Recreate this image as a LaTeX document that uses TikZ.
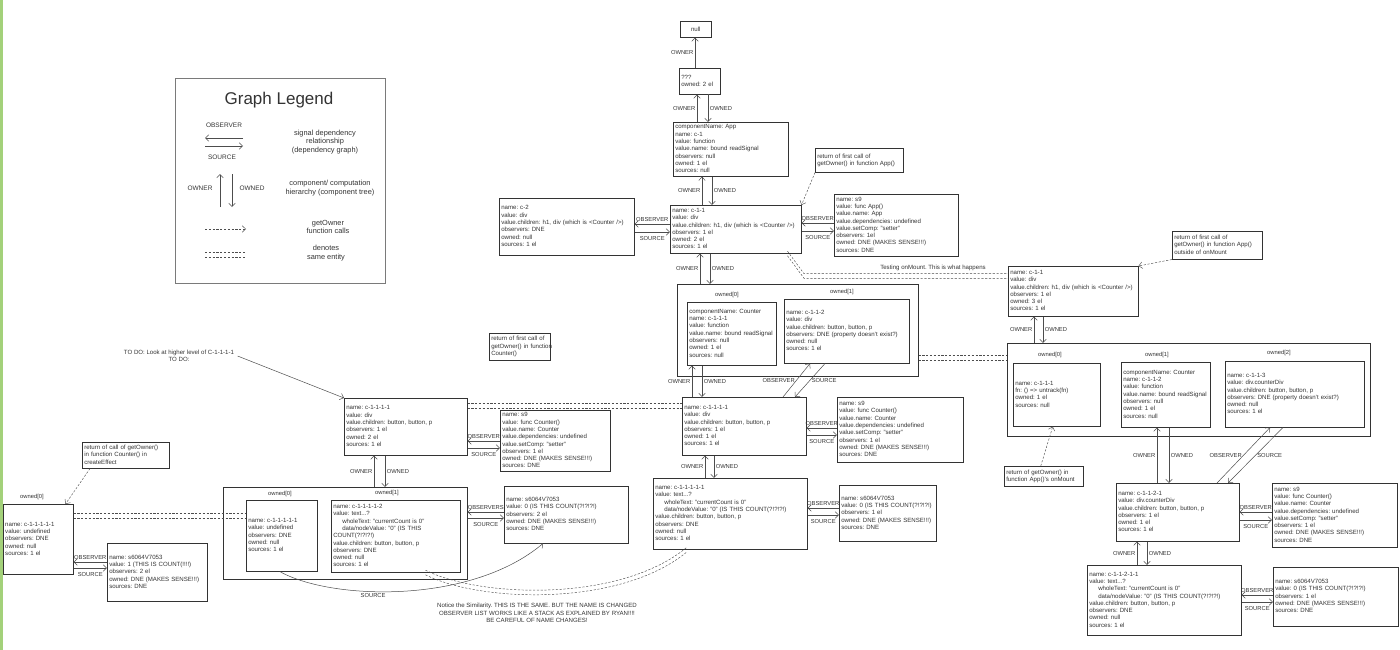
\documentclass[tikz,border=0pt]{standalone}
\usepackage{fontspec}
\setmainfont{Liberation Sans}
\usetikzlibrary{arrows.meta,calc}
\definecolor{Ink}{HTML}{333333}
\definecolor{Wire}{HTML}{4D4D4D}
\definecolor{Frame}{HTML}{7A7A7A}
\definecolor{Edge}{HTML}{A3D17A}
\newcommand{\rows}[1]{\begin{tabular}{@{}l@{}}#1\end{tabular}}
\newcommand{\ind}{\hspace*{9pt}}
\frenchspacing

\begin{document}
\begin{tikzpicture}[x=1pt,y=-1pt,
  box/.style={draw=Ink,line width=0.5pt,fill=white,anchor=north west,align=left,inner xsep=2pt,inner ysep=1.5pt,text=Ink,font=\fontsize{6.1}{7.3}\selectfont},
  grp/.style={draw=Ink,line width=0.5pt,anchor=north west,inner sep=0pt},
  lab/.style={text=Ink,inner sep=1.5pt,font=\fontsize{5.8}{7}\selectfont},
  note/.style={text=Ink,align=center,font=\fontsize{6.1}{7.3}\selectfont},
  lgl/.style={text=Ink,font=\fontsize{6.5}{8}\selectfont},
  lgt/.style={text=Ink,align=center,font=\fontsize{7.4}{8.7}\selectfont},
  arr/.style={draw=Wire,line width=0.5pt,-{Straight Barb[length=3.5pt,width=6.5pt]}},
  call/.style={draw=Wire,line width=0.45pt,dash pattern=on 2.2pt off 1.6pt,-{Straight Barb[length=3.5pt,width=6.5pt]}},
  dashline/.style={draw=Wire,line width=0.45pt,dash pattern=on 2.2pt off 1.6pt},
  same/.style={draw=none,preaction={dashline,transform canvas={yshift=2.3pt}},postaction={dashline,transform canvas={yshift=-2.3pt}}}
]
\useasboundingbox (0,0) rectangle (1400,650);
\fill[Edge] (0,0) rectangle (2.5,650);

% legend
\node[draw=Frame,line width=0.7pt,anchor=north west,minimum width=210pt,minimum height=205pt,inner sep=0pt] (legend) at (175,78) {};
\node[text=Ink,font=\fontsize{17}{20}\selectfont] (lgtitle) at (279,100) {Graph Legend};
\node[lgl] (lgobs) at (224,125) {OBSERVER};
\coordinate (lgl1) at (205,138); \coordinate (lgr1) at (243,138);
\coordinate (lgl2) at (205,146); \coordinate (lgr2) at (243,146);
\draw[arr] (lgr1) -- (lgl1);
\draw[arr] (lgl2) -- (lgr2);
\node[lgl] (lgsrc) at (222,157) {SOURCE};
\node[lgt] (lgsig) at (325,142) {signal dependency\\relationship\\(dependency graph)};
\node[lgl] (lgowner) at (200,188) {OWNER};
\coordinate (lgu1) at (220,207); \coordinate (lgu2) at (220,174);
\coordinate (lgd1) at (232,174); \coordinate (lgd2) at (232,207);
\draw[arr] (lgu1) -- (lgu2);
\draw[arr] (lgd1) -- (lgd2);
\node[lgl] (lgowned) at (252,188) {OWNED};
\node[lgt] (lghier) at (330,188) {component/ computation\\hierarchy (component tree)};
\coordinate (lgc1) at (205,229); \coordinate (lgc2) at (246,229);
\draw[call] (lgc1) -- (lgc2);
\node[lgt] (lgcall) at (328,227) {getOwner\\function calls};
\coordinate (lgs1) at (205,255); \coordinate (lgs2) at (245,255);
\draw[same] (lgs1) -- (lgs2);
\node[lgt] (lgsame) at (326,253) {denotes\\same entity};

% top chain
\node[box,text width=27pt,minimum height=16pt,align=center] (nullb) at (680,21) {null};
\node[box,text width=37pt,minimum height=26pt] (qbox) at (679,68) {\rows{???\\owned: 2 el}};
\node[box,text width=111pt,minimum height=54pt] (app) at (673,122) {\rows{componentName: App\\name: c-1\\value: function\\value.name: bound readSignal\\observers: null\\owned: 1 el\\sources: null}};
\node[box,text width=131pt,minimum height=57pt] (c2) at (499,198) {\rows{name: c-2\\value: div\\value.children: h1, div (which is <Counter />)\\observers: DNE\\owned: null\\sources: 1 el}};
\node[box,text width=127pt,minimum height=48pt] (c11) at (670,205) {\rows{name: c-1-1\\value: div\\value.children: h1, div (which is <Counter />)\\observers: 1 el\\owned: 2 el\\sources: 1 el}};
\node[box,text width=120pt,minimum height=62pt] (s9app) at (834,194) {\rows{name: s9\\value: func App()\\value.name: App\\value.dependencies: undefined\\value.setComp: "setter"\\observers: 1el\\owned: DNE (MAKES SENSE!!!)\\sources: DNE}};
\node[box,text width=84pt,minimum height=24pt] (cmtapp) at (815,148) {\rows{return of first call of\\getOwner() in function App()}};
\node[box,text width=86pt,minimum height=28pt] (cmtout) at (1172,231) {\rows{return of first call of\\getOwner() in function App()\\outside of onMount}};
\node[box,text width=126pt,minimum height=50pt] (c11r) at (1008,266) {\rows{name: c-1-1\\value: div\\value.children: h1, div (which is <Counter />)\\observers: 1 el\\owned: 3 el\\sources: 1 el}};

% owned of c-1-1 (middle)
\node[grp,minimum width=241pt,minimum height=92pt] (grpmid) at (677,284) {};
\node[lab] (lm0) at (727,295) {owned[0]};
\node[lab] (lm1) at (842,292) {owned[1]};
\node[box,text width=85pt,minimum height=63pt] (om0) at (687,302) {\rows{componentName: Counter\\name: c-1-1-1\\value: function\\value.name: bound readSignal\\observers: null\\owned: 1 el\\sources: null}};
\node[box,text width=121pt,minimum height=64pt] (om1) at (784,299) {\rows{name: c-1-1-2\\value: div\\value.children: button, button, p\\observers: DNE (property doesn't exist?)\\owned: null\\sources: 1 el}};

% owned of c-1-1 (right)
\node[grp,minimum width=363pt,minimum height=93pt] (grpright) at (1007,343) {};
\node[lab] (lr0) at (1050,355) {owned[0]};
\node[lab] (lr1) at (1157,355) {owned[1]};
\node[lab] (lr2) at (1279,353) {owned[2]};
\node[box,text width=83pt,minimum height=63pt] (or0) at (1013,363) {\rows{name: c-1-1-1\\fn: () => untrack(fn)\\owned: 1 el\\sources: null}};
\node[box,text width=85pt,minimum height=65pt] (or1) at (1121,362) {\rows{componentName: Counter\\name: c-1-1-2\\value: function\\value.name: bound readSignal\\observers: null\\owned: 1 el\\sources: null}};
\node[box,text width=135pt,minimum height=66pt] (or2) at (1225,361) {\rows{name: c-1-1-3\\value: div.counterDiv\\value.children: button, button, p\\observers: DNE (property doesn't exist?)\\owned: null\\sources: 1 el}};
\node[box,text width=75pt,minimum height=20pt] (cmtmount) at (1004,466) {\rows{return of getOwner() in\\function App()'s onMount}};
\node[box,text width=119pt,minimum height=58pt] (c1121) at (1116,483) {\rows{name: c-1-1-2-1\\value: div.counterDiv\\value.children: button, button, p\\observers: 1 el\\owned: 1 el\\sources: 1 el}};
\node[box,text width=121pt,minimum height=64pt] (s9r) at (1272,483) {\rows{name: s9\\value: func Counter()\\value.name: Counter\\value.dependencies: undefined\\value.setComp: "setter"\\observers: 1 el\\owned: DNE (MAKES SENSE!!!)\\sources: DNE}};
\node[box,text width=150pt,minimum height=70pt] (c11211) at (1087,565) {\rows{name: c-1-1-2-1-1\\value: text...?\\\ind wholeText: "currentCount is 0"\\\ind data/nodeValue: "0" (IS THIS COUNT(?!?!?!)\\value.children: button, button, p\\observers: DNE\\owned: null\\sources: 1 el}};
\node[box,text width=121pt,minimum height=59pt] (s6064r) at (1273,567) {\rows{name: s6064V7053\\value: 0 (IS THIS COUNT(?!?!?!)\\observers: 1 el\\owned: DNE (MAKES SENSE!!!)\\sources: DNE}};

% middle column
\node[box,text width=120pt,minimum height=58pt] (c1111m) at (682,397) {\rows{name: c-1-1-1-1\\value: div\\value.children: button, button, p\\observers: 1 el\\owned: 1 el\\sources: 1 el}};
\node[box,text width=122pt,minimum height=65pt] (s9m) at (837,397) {\rows{name: s9\\value: func Counter()\\value.name: Counter\\value.dependencies: undefined\\value.setComp: "setter"\\observers: 1 el\\owned: DNE (MAKES SENSE!!!)\\sources: DNE}};
\node[box,text width=150pt,minimum height=71pt] (c11111m) at (653,478) {\rows{name: c-1-1-1-1-1\\value: text...?\\\ind wholeText: "currentCount is 0"\\\ind data/nodeValue: "0" (IS THIS COUNT(?!?!?!)\\value.children: button, button, p\\observers: DNE\\owned: null\\sources: 1 el}};
\node[box,text width=93pt,minimum height=56pt] (s6064mr) at (839,485) {\rows{name: s6064V7053\\value: 0 (IS THIS COUNT(?!?!?!)\\observers: 1 el\\owned: DNE (MAKES SENSE!!!)\\sources: DNE}};

% left side
\node[note] (todo) at (179,356) {TO DO: Look at higher level of C-1-1-1-1\\TO DO:};
\node[box,text width=57pt,minimum height=27pt] (cmtcounter) at (489,333) {\rows{return of first call of\\getOwner() in function\\Counter()}};
\node[box,text width=119pt,minimum height=57pt] (c1111l) at (344,398) {\rows{name: c-1-1-1-1\\value: div\\value.children: button, button, p\\observers: 1 el\\owned: 2 el\\sources: 1 el}};
\node[box,text width=106pt,minimum height=60pt] (s9l) at (500,410) {\rows{name: s9\\value: func Counter()\\value.name: Counter\\value.dependencies: undefined\\value.setComp: "setter"\\observers: 1 el\\owned: DNE (MAKES SENSE!!!)\\sources: DNE}};
\node[grp,minimum width=244pt,minimum height=92pt] (grpbot) at (223,487) {};
\node[lab] (lb0) at (280,494) {owned[0]};
\node[lab] (lb1) at (387,493) {owned[1]};
\node[box,text width=67pt,minimum height=71pt] (ob0) at (246,500) {\rows{name: c-1-1-1-1-1\\value: undefined\\observers: DNE\\owned: null\\sources: 1 el}};
\node[box,text width=125pt,minimum height=72pt] (ob1) at (331,500) {\rows{name: c-1-1-1-1-2\\value: text...?\\\ind wholeText: "currentCount is 0"\\\ind data/nodeValue: "0" (IS THIS\\COUNT(?!?!?!)\\value.children: button, button, p\\observers: DNE\\owned: null\\sources: 1 el}};
\node[box,text width=120pt,minimum height=57pt] (s6064m) at (504,486) {\rows{name: s6064V7053\\value: 0 (IS THIS COUNT(?!?!?!)\\observers: 2 el\\owned: DNE (MAKES SENSE!!!)\\sources: DNE}};
\node[lab] (lf0) at (32,497) {owned[0]};
\node[box,text width=66pt,minimum height=70pt] (c111111l) at (3,504) {\rows{name: c-1-1-1-1-1\\value: undefined\\observers: DNE\\owned: null\\sources: 1 el}};
\node[box,text width=83pt,minimum height=26pt] (cmteffect) at (82,442) {\rows{return of call of getOwner()\\in function Counter() in\\createEffect}};
\node[box,text width=96pt,minimum height=58pt] (s6064l) at (107,543) {\rows{name: s6064V7053\\value: 1 (THIS IS COUNT(!!!!)\\observers: 2 el\\owned: DNE (MAKES SENSE!!!)\\sources: DNE}};
\node[note] (notice) at (537,613) {Notice the Similarity. THIS IS THE SAME. BUT THE NAME IS CHANGED\\OBSERVER LIST WORKS LIKE A STACK AS EXPLAINED BY RYAN!!!!\\BE CAREFUL OF NAME CHANGES!};
\node[note] (testing) at (933,268) {Testing onMount. This is what happens};

% owner / owned
\draw[arr] (695,0 |- qbox.north) -- (695,0 |- nullb.south) node[lab,midway,left] (own-top) {OWNER};
\foreach \t/\b/\xa/\xb in {qbox/app/697/708,app/c11/702/712,c11/grpmid/700/710,om0/c1111m/692/702,c1111m/c11111m/705/714,c11r/grpright/1034/1043,or1/c1121/1157/1169,c1121/c11211/1137/1147,c1111l/grpbot/374/385} {
  \draw[arr] (\xa,0 |- \b.north) -- (\xa,0 |- \t.south) node[lab,midway,left] (own-\t) {OWNER};
  \draw[arr] (\xb,0 |- \t.south) -- (\xb,0 |- \b.north) node[lab,midway,right] (owd-\t) {OWNED};
}

% observer / source
\foreach \l/\r/\ya/\yb/\ot in {c2/c11/224/232/OBSERVER,c11/s9app/223/231/OBSERVER,c1111m/s9m/428/435/OBSERVER,c1111l/s9l/441/448/OBSERVER,grpbot/s6064m/512/518/OBSERVERS,c11111m/s6064mr/508/515/OBSERVER,c111111l/s6064l/562/568/OBSERVER,c1121/s9r/512/520/OBSERVER,c11211/s6064r/595/602/OBSERVER} {
  \draw[arr] (\r.west |- 0,\ya) -- (\l.east |- 0,\ya) node[lab,midway,above=1pt] (obs-\l) {\ot};
  \draw[arr] (\l.east |- 0,\yb) -- (\r.west |- 0,\yb) node[lab,midway,below=3pt] (src-\l) {SOURCE};
}
\draw[arr] (783,0 |- c1111m.north) -- (810,0 |- om1.south) node[lab,midway,left] (obs-om1) {OBSERVER};
\draw[arr] (825,0 |- om1.south) -- (795,0 |- c1111m.north) node[lab,midway,right] (src-om1) {SOURCE};
\draw[arr] (1217,0 |- c1121.north) -- (1270,0 |- or2.south) node[lab,midway,left] (obs-or2) {OBSERVER};
\draw[arr] (1283,0 |- or2.south) -- (1228,0 |- c1121.north) node[lab,midway,right] (src-or2) {SOURCE};
\draw[arr] ([xshift=-2]ob0.south) .. controls (330,600) and (470,605) .. ([xshift=39]s6064m.south west) node[lab,pos=0.4,below] (src-curve) {SOURCE};
\draw[arr] (todo.east) -- (c1111l.north west);

% getOwner calls
\draw[call] (cmtapp.south west) -- (c11.north east);
\draw[call] (cmtout.south west) -- (c11r.north east);
\draw[call] ([xshift=-3]cmtmount.north) -- ([xshift=-4]or0.south);
\draw[call] ([xshift=8]cmteffect.south west) -- ([xshift=-8]c111111l.north east);

% same entity
\draw[same] ([xshift=-14]c11.south east) -- (804,276) -- (c11r.west |- 0,276);
\draw[same] (grpmid.east |- 0,358) -- (grpright.west |- 0,358);
\draw[same] (c1111l.east |- 0,406) -- (c1111m.west |- 0,406);
\draw[same] (c111111l.east |- 0,516) -- (ob0.west |- 0,516);
\draw[same] ([xshift=-35]ob1.south east) .. controls (480,600) and (620,605) .. ([xshift=34]c11111m.south west);
\end{tikzpicture}
\end{document}
